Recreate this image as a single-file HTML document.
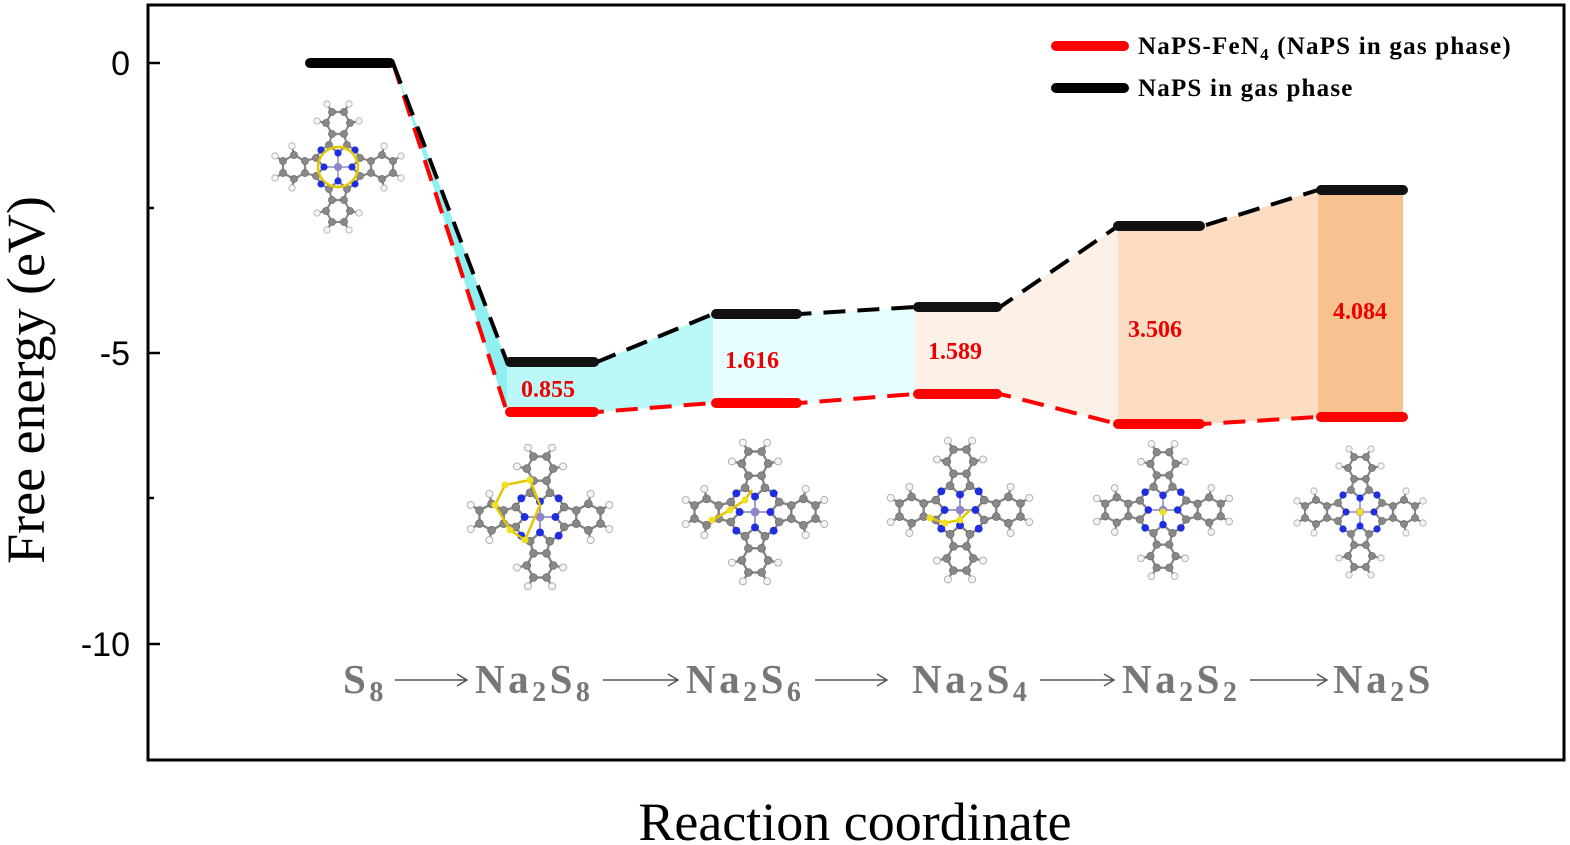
<!DOCTYPE html>
<html><head><meta charset="utf-8"><style>
html,body{margin:0;padding:0;background:#fff;}
svg{display:block;}
.ser{font-family:"Liberation Serif",serif;}
.san{font-family:"Liberation Sans",sans-serif;}
</style></head><body>
<svg width="1570" height="845" viewBox="0 0 1570 845" xmlns="http://www.w3.org/2000/svg">
<defs>
<g id="arm">
  <line x1="0" y1="0" x2="0" y2="-14" stroke="#8a8ac0" stroke-width="1.5"/>
  <g stroke="#888" stroke-width="2.2" fill="none">
    <polyline points="-9,-22 0,-14 9,-22 6,-33 -6,-33 -9,-22"/>
    <polygon points="-6,-33 6,-33 12,-44 6,-55 -6,-55 -12,-44"/>
    <line x1="9" y1="-22" x2="17" y2="-17"/>
    <line x1="17" y1="-17" x2="22" y2="-9"/>
    <line x1="12" y1="-44" x2="21" y2="-46"/><line x1="-12" y1="-44" x2="-21" y2="-46"/>
    <line x1="6" y1="-55" x2="11" y2="-63"/><line x1="-6" y1="-55" x2="-11" y2="-63"/>
  </g>
  <g fill="#888" stroke="#666" stroke-width="0.6">
    <circle cx="-9" cy="-22" r="3.6"/><circle cx="9" cy="-22" r="3.6"/>
    <circle cx="-6" cy="-33" r="3.6"/><circle cx="6" cy="-33" r="3.6"/>
    <circle cx="12" cy="-44" r="3.6"/><circle cx="-12" cy="-44" r="3.6"/>
    <circle cx="6" cy="-55" r="3.6"/><circle cx="-6" cy="-55" r="3.6"/>
  </g>
  <g fill="#f4f4f4" stroke="#aaa" stroke-width="0.8">
    <circle cx="21" cy="-46" r="3.2"/><circle cx="-21" cy="-46" r="3.2"/>
    <circle cx="11" cy="-63" r="3.2"/><circle cx="-11" cy="-63" r="3.2"/>
  </g>
  <circle cx="0" cy="-14" r="3.6" fill="#1f2fe0"/>
  <circle cx="17" cy="-17" r="3.6" fill="#1f2fe0"/>
</g>
<g id="mol">
  <use href="#arm"/>
  <use href="#arm" transform="rotate(90)"/>
  <use href="#arm" transform="rotate(180)"/>
  <use href="#arm" transform="rotate(270)"/>
  <circle cx="0" cy="0" r="4" fill="#8f86c8"/>
</g>
</defs>

<!-- fills -->
<polygon points="393,63 507,362 507,412" fill="#8ef0f0"/>
<polygon points="507,362 597,362 713,314 713,403 597,412 507,412" fill="#baf9f8"/>
<polygon points="713,314 800,314 915,307 915,394 800,403 713,403" fill="#e8fdfd"/>
<polygon points="915,307 1000,307 1118,226 1118,424 1000,394 915,394" fill="#fdf0e6"/>
<polygon points="1118,226 1203,226 1318,190 1318,417 1203,424 1118,424" fill="#fcdcc2"/>
<polygon points="1318,190 1403,190 1403,417 1318,417" fill="#f8c190"/>

<!-- dashed connectors -->
<g fill="none" stroke-width="4" stroke-dasharray="22,12">
  <polyline stroke="#ff0000" points="393,63 507,412 597,412 713,403 800,403 915,394 1000,394 1118,424 1203,424 1318,417"/>
  <polyline stroke="#000" points="393,63 507,362 597,362 713,314 800,314 915,307 1000,307 1118,226 1203,226 1318,190"/>
</g>
<!-- levels -->
<g stroke-width="10" stroke-linecap="round">
  <line x1="310" y1="63" x2="390" y2="63" stroke="#000"/>
  <line x1="510" y1="412" x2="594" y2="412" stroke="#f00"/>
  <line x1="716" y1="403" x2="797" y2="403" stroke="#f00"/>
  <line x1="918" y1="394" x2="997" y2="394" stroke="#f00"/>
  <line x1="1118" y1="424" x2="1200" y2="424" stroke="#f00"/>
  <line x1="1321" y1="417" x2="1403" y2="417" stroke="#f00"/>
  <line x1="510" y1="362" x2="594" y2="362" stroke="#111"/>
  <line x1="716" y1="314" x2="797" y2="314" stroke="#111"/>
  <line x1="918" y1="307" x2="997" y2="307" stroke="#111"/>
  <line x1="1118" y1="226" x2="1200" y2="226" stroke="#111"/>
  <line x1="1321" y1="190" x2="1403" y2="190" stroke="#111"/>
</g>

<!-- values -->
<g class="ser" font-weight="bold" font-size="24" fill="#ee0000" text-anchor="middle">
  <text x="548" y="397">0.855</text>
  <text x="752" y="368">1.616</text>
  <text x="955" y="359">1.589</text>
  <text x="1155" y="337">3.506</text>
  <text x="1360" y="319">4.084</text>
</g>

<!-- molecules -->
<use href="#mol" transform="translate(338,167) scale(1.0)"/>
<use href="#mol" transform="translate(540,517) scale(1.1)"/>
<use href="#mol" transform="translate(755,512) scale(1.1)"/>
<use href="#mol" transform="translate(960,510) scale(1.1)"/>
<use href="#mol" transform="translate(1163,510) scale(1.05)"/>
<use href="#mol" transform="translate(1360,512) scale(1.0)"/>
<g stroke="#e0c800" stroke-width="2.5" fill="none">
  <polyline points="495,505 505,485 530,480 540,505 525,540 510,530 495,505"/>
  <polyline points="712,520 730,510 745,500 752,490"/>
  <polyline points="930,518 945,523 960,520 970,510"/>
</g>
<g fill="#f0e020">
  <circle cx="495" cy="505" r="3.5"/><circle cx="505" cy="485" r="3.5"/><circle cx="530" cy="480" r="3.5"/><circle cx="525" cy="540" r="3.5"/><circle cx="510" cy="530" r="3.5"/>
  <circle cx="712" cy="520" r="3.5"/><circle cx="730" cy="510" r="3.5"/><circle cx="745" cy="500" r="3.5"/>
  <circle cx="930" cy="518" r="3.5"/><circle cx="945" cy="523" r="3.5"/><circle cx="960" cy="520" r="3.5"/>
  <circle cx="1163" cy="512" r="3.5"/><circle cx="1360" cy="512" r="3.5"/>
</g>
<circle cx="338" cy="167" r="20" fill="none" stroke="#e0c800" stroke-width="2.5"/>

<!-- axes box -->
<rect x="148" y="5" width="1416" height="755" fill="none" stroke="#000" stroke-width="3"/>
<g stroke="#000" stroke-width="2.5">
  <line x1="148" y1="63" x2="160" y2="63"/><line x1="148" y1="353" x2="160" y2="353"/><line x1="148" y1="644" x2="160" y2="644"/>
  <line x1="148" y1="208" x2="154" y2="208"/><line x1="148" y1="498" x2="154" y2="498"/>
</g>
<g class="san" font-size="34" fill="#000" text-anchor="end">
  <text x="130" y="75">0</text>
  <text x="130" y="365">-5</text>
  <text x="130" y="656">-10</text>
</g>
<text class="ser" font-size="54" transform="translate(44,380) rotate(-90)" text-anchor="middle">Free energy (eV)</text>
<text class="ser" font-size="54" x="855" y="840" text-anchor="middle">Reaction coordinate</text>

<!-- reaction labels -->
<g class="ser" font-weight="bold" font-size="41" fill="#777" letter-spacing="3.5">
  <text x="343" y="693">S<tspan font-size="28" dy="8">8</tspan></text>
  <text x="475" y="693">Na<tspan font-size="28" dy="8">2</tspan><tspan dy="-8">S</tspan><tspan font-size="28" dy="8">8</tspan></text>
  <text x="686" y="693">Na<tspan font-size="28" dy="8">2</tspan><tspan dy="-8">S</tspan><tspan font-size="28" dy="8">6</tspan></text>
  <text x="912" y="693">Na<tspan font-size="28" dy="8">2</tspan><tspan dy="-8">S</tspan><tspan font-size="28" dy="8">4</tspan></text>
  <text x="1122" y="693">Na<tspan font-size="28" dy="8">2</tspan><tspan dy="-8">S</tspan><tspan font-size="28" dy="8">2</tspan></text>
  <text x="1333" y="693">Na<tspan font-size="28" dy="8">2</tspan><tspan dy="-8">S</tspan></text>
</g>
<g stroke="#555" stroke-width="1.5" fill="none">
  <path d="M395,680 H467 M457,674 L467,680 L457,686"/>
  <path d="M603,680 H678 M668,674 L678,680 L668,686"/>
  <path d="M815,680 H887 M877,674 L887,680 L877,686"/>
  <path d="M1040,680 H1114 M1104,674 L1114,680 L1104,686"/>
  <path d="M1250,680 H1327 M1317,674 L1327,680 L1317,686"/>
</g>

<!-- legend -->
<line x1="1056" y1="46" x2="1124" y2="46" stroke="#f00" stroke-width="10" stroke-linecap="round"/>
<line x1="1056" y1="88" x2="1124" y2="88" stroke="#000" stroke-width="10" stroke-linecap="round"/>
<g class="ser" font-weight="bold" font-size="25" fill="#000" letter-spacing="1.2">
  <text x="1138" y="54">NaPS-FeN<tspan font-size="17" dy="6">4</tspan><tspan dy="-6"> (NaPS in gas phase)</tspan></text>
  <text x="1138" y="96">NaPS in gas phase</text>
</g>
</svg>
</body></html>
